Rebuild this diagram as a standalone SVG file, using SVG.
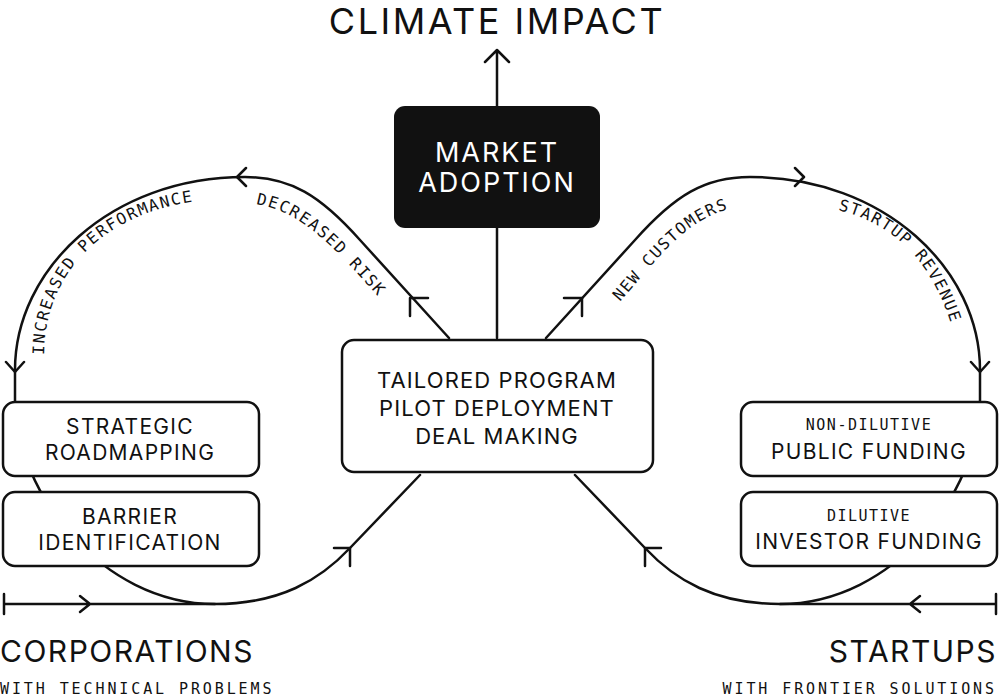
<svg xmlns="http://www.w3.org/2000/svg" width="1000" height="697" viewBox="0 0 1000 697">
<style>
.ln{fill:none;stroke:#111;stroke-width:2.5;stroke-linecap:round;stroke-linejoin:round}
.bx{fill:#fff;stroke:#111;stroke-width:2.5}
.t{font-family:Inter,"Liberation Sans",sans-serif;fill:#111;text-anchor:middle}
.m{font-family:"DejaVu Sans Mono","Liberation Mono",monospace;fill:#111;font-size:15px}
.c{font-size:16px;letter-spacing:1.6px}
</style>
<rect width="1000" height="697" fill="#fff"/>
<defs>
<path id="p1" d="M44,355 C44,270 110,202 225,199"/>
<path id="p2" d="M256,204 C300,212 330,240 392,313"/>
<path id="p3" d="M620,302 C665,250 690,212 752,204"/>
<path id="p4" d="M838,210 C900,225 940,270 958,350"/>
</defs>
<g id="connectors">
<path class="ln" d="M449,338 L360,240 C320,195 290,177 245,177 C110,177 15,270 15,370 L15,400 C15,490 100,604 215,604 C280,604 320,580 350,548 L420,475"/>
<path class="ln" d="M546,338 L635,240 C675,195 705,177 750,177 C885,177 980,270 980,370 L980,400 C980,490 895,604 780,604 C715,604 675,580 645,548 L575,475"/>
<path class="ln" d="M497,338 L497,50 M485,62 L497,50 L509,62"/>
<path class="ln" d="M4,604 L215,604 M4,594 L4,614 M80,596 L90,604 L80,612"/>
<path class="ln" d="M780,604 L996,604 M996,594 L996,614 M920,596 L910,604 L920,612"/>
<path class="ln" d="M246,168 L237,177 L246,186 M6,362 L15,372 L24,362 M410,316 L410,298 L428,298 M334,548 L350,548 L350,566"/>
<path class="ln" d="M795,168 L804,177 L795,186 M971,362 L980,372 L989,362 M582,316 L582,298 L564,298 M661,548 L645,548 L645,566"/>
<text class="m c"><textPath href="#p1">INCREASED PERFORMANCE</textPath></text>
<text class="m c"><textPath href="#p2">DECREASED RISK</textPath></text>
<text class="m c"><textPath href="#p3">NEW CUSTOMERS</textPath></text>
<text class="m c"><textPath href="#p4">STARTUP REVENUE</textPath></text>
</g>
<g id="title"><text class="t" x="497" y="34" font-size="36" letter-spacing="2.5">CLIMATE IMPACT</text></g>
<g id="market"><rect x="394" y="106" width="206" height="122" rx="11" fill="#111"/>
<text class="t" x="497" y="162" font-size="27" letter-spacing="2" style="fill:#fff">MARKET</text>
<text class="t" x="497" y="192" font-size="27" letter-spacing="2" style="fill:#fff">ADOPTION</text></g>
<g id="center"><rect class="bx" x="342" y="340" width="311" height="132" rx="12"/>
<text class="t" x="497" y="388" font-size="22" letter-spacing="1.1">TAILORED PROGRAM</text>
<text class="t" x="497" y="416" font-size="22" letter-spacing="1.1">PILOT DEPLOYMENT</text>
<text class="t" x="497" y="444" font-size="22" letter-spacing="1.1">DEAL MAKING</text></g>
<g id="strategic"><rect class="bx" x="3" y="402" width="256" height="74" rx="12"/>
<text class="t" x="130" y="434" font-size="21" letter-spacing="1.3">STRATEGIC</text>
<text class="t" x="130" y="460" font-size="21" letter-spacing="1.3">ROADMAPPING</text></g>
<g id="barrier"><rect class="bx" x="3" y="492" width="256" height="74" rx="12"/>
<text class="t" x="130" y="524" font-size="21" letter-spacing="1.3">BARRIER</text>
<text class="t" x="130" y="550" font-size="21" letter-spacing="1.3">IDENTIFICATION</text></g>
<g id="public"><rect class="bx" x="741" y="402" width="256" height="74" rx="12"/>
<text class="m" x="869" y="430" text-anchor="middle" font-size="15" letter-spacing="1.5">NON-DILUTIVE</text>
<text class="t" x="869" y="459" font-size="21" letter-spacing="1.3">PUBLIC FUNDING</text></g>
<g id="investor"><rect class="bx" x="741" y="492" width="256" height="74" rx="12"/>
<text class="m" x="869" y="521" text-anchor="middle" font-size="15" letter-spacing="1.5">DILUTIVE</text>
<text class="t" x="869" y="549" font-size="21" letter-spacing="1.3">INVESTOR FUNDING</text></g>
<g id="corporations"><text class="t" x="0" y="662" font-size="30" letter-spacing="1.5" style="text-anchor:start">CORPORATIONS</text>
<text class="m" x="0" y="694" font-size="17" letter-spacing="2.9">WITH TECHNICAL PROBLEMS</text></g>
<g id="startups"><text class="t" x="997" y="662" font-size="30" letter-spacing="1.5" style="text-anchor:end">STARTUPS</text>
<text class="m" x="997" y="694" font-size="17" letter-spacing="2.9" text-anchor="end">WITH FRONTIER SOLUTIONS</text></g>
</svg>
